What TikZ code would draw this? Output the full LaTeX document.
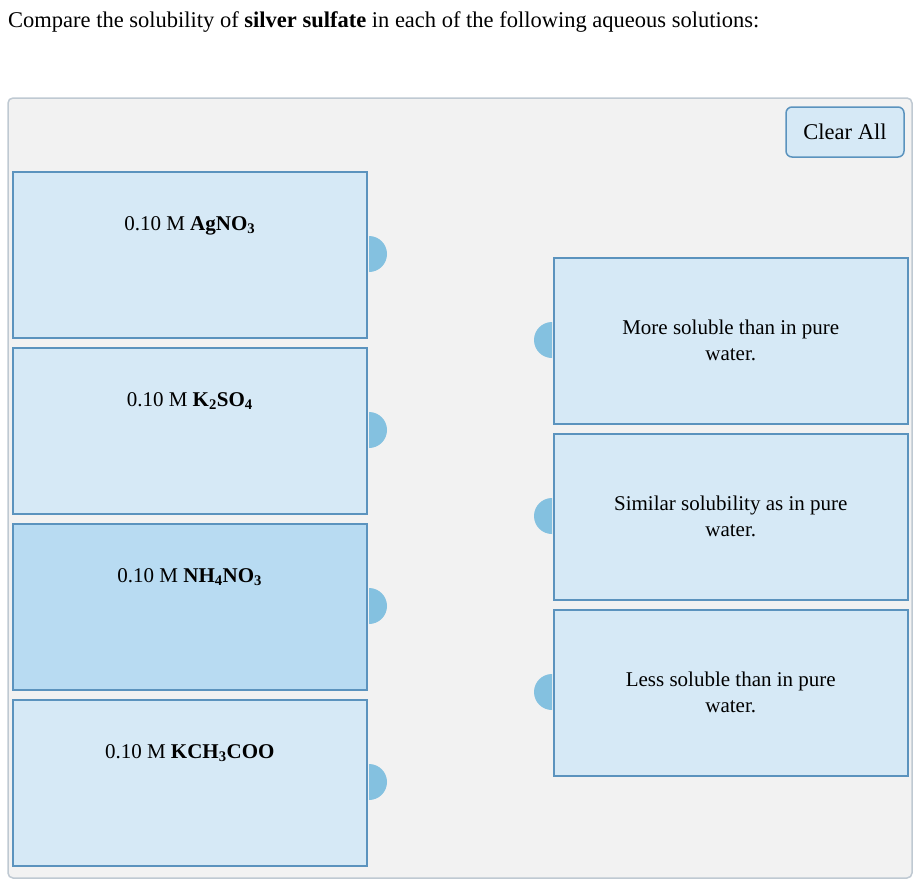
\documentclass[tikz,border=0pt]{standalone}
\usepackage{fontspec}
\setmainfont{Liberation Serif}
\definecolor{boxfill}{HTML}{D6E9F6}
\definecolor{boxhi}{HTML}{B8DBF2}
\definecolor{boxline}{HTML}{5B93BE}
\definecolor{panelfill}{HTML}{F2F2F2}
\definecolor{panelline}{HTML}{BFC9D2}
\definecolor{dot}{HTML}{84C1E0}
\begin{document}
\begin{tikzpicture}[x=1pt,y=-1pt,
  choice/.style={draw=boxline,line width=1.5pt,fill=boxfill,minimum width=354pt,minimum height=166pt,inner sep=0pt,font=\fontsize{21}{26}\selectfont,align=center},
  knob/.style={fill=dot}]
\useasboundingbox (0,0) rectangle (920,892);
\node[anchor=west,inner sep=0pt,font=\fontsize{22.5}{27}\selectfont] (title) at (8,22) {Compare the solubility of \textbf{silver sulfate} in each of the following aqueous solutions:};
\draw[panelline,fill=panelfill,line width=1.5pt,rounded corners=5pt] (8,98) rectangle (912,878);
\node[draw=boxline,fill=boxfill,line width=1.5pt,rounded corners=6pt,minimum width=118pt,minimum height=50pt,font=\fontsize{22.5}{27}\selectfont] (clear) at (845,132) {Clear All};
\node[choice,anchor=north west] (a) at (12,171) {0.10 M \textbf{AgNO\textsubscript{3}}\\[36pt]};
\node[choice,anchor=north west] (b) at (12,347) {0.10 M \textbf{K\textsubscript{2}SO\textsubscript{4}}\\[36pt]};
\node[choice,anchor=north west,fill=boxhi] (c) at (12,523) {0.10 M \textbf{NH\textsubscript{4}NO\textsubscript{3}}\\[36pt]};
\node[choice,anchor=north west] (d) at (12,699) {0.10 M \textbf{KCH\textsubscript{3}COO}\\[36pt]};
\node[choice,anchor=north west] (p) at (553,257) {More soluble than in pure\\water.};
\node[choice,anchor=north west] (q) at (553,433) {Similar solubility as in pure\\water.};
\node[choice,anchor=north west] (r) at (553,609) {Less soluble than in pure\\water.};
\foreach \n/\y in {a/254,b/430,c/606,d/782}
  \fill[knob] (369,\y-18) arc[start angle=-90,end angle=90,radius=18] -- cycle;
\foreach \n/\y in {p/340,q/516,r/692}
  \fill[knob] (552,\y-18) arc[start angle=-90,end angle=-270,radius=18] -- cycle;
\end{tikzpicture}
\end{document}
